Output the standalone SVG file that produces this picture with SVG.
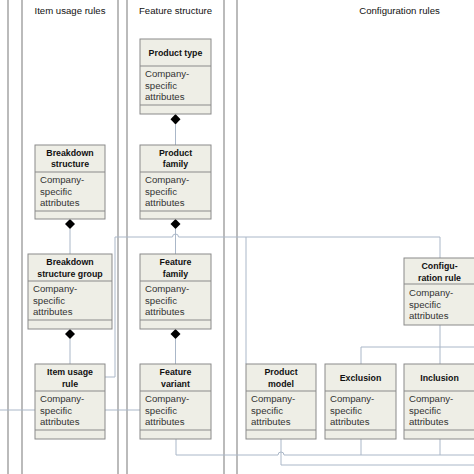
<svg xmlns="http://www.w3.org/2000/svg" width="474" height="474" viewBox="0 0 474 474">
<style>
  text { font-family: "Liberation Sans", Arial, sans-serif; }
  .lane { stroke: #8e8e8e; stroke-width: 1.2; fill: none; }
  .title { font-size: 9.6px; fill: #111; text-anchor: middle; }
  .box { fill: #eeeee6; stroke: #8a8a8a; stroke-width: 1; }
  .div { stroke: #8a8a8a; stroke-width: 1; fill: none; }
  .hd { font-size: 8.8px; font-weight: bold; fill: #111; text-anchor: middle; }
  .at { font-size: 9.6px; fill: #333; }
  .con { stroke: #aab7c8; stroke-width: 1; fill: none; }
  .comp { stroke: #aab7c8; stroke-width: 1; fill: none; }
  .dia { fill: #000; }
</style>
<rect width="474" height="474" fill="#ffffff"/>

<g id="lanes">
  <line class="lane" x1="8" y1="0" x2="8" y2="474"/>
  <line class="lane" x1="22" y1="0" x2="22" y2="474"/>
  <line class="lane" x1="118" y1="0" x2="118" y2="474"/>
  <line class="lane" x1="127" y1="0" x2="127" y2="474"/>
  <line class="lane" x1="224" y1="0" x2="224" y2="474"/>
  <line class="lane" x1="237" y1="0" x2="237" y2="474"/>
  <text class="title" x="70" y="14">Item usage rules</text>
  <text class="title" x="175.5" y="14">Feature structure</text>
  <text class="title" x="399.5" y="14">Configuration rules</text>
</g>

<g id="connectors">
  <!-- composition links -->
  <path class="comp" d="M175.5,124.5 V145"/>
  <path class="comp" d="M175.5,229 V254"/>
  <path class="comp" d="M70,229 V254"/>
  <path class="comp" d="M70,339 V364"/>
  <path class="comp" d="M175.5,339 V364"/>
  <polygon class="dia" points="175.5,114 180.5,119.2 175.5,124.5 170.5,119.2"/>
  <polygon class="dia" points="175.5,219 180.5,224 175.5,229 170.5,224"/>
  <polygon class="dia" points="70,219 75,224 70,229 65,224"/>
  <polygon class="dia" points="70,329 75,334 70,339 65,334"/>
  <polygon class="dia" points="175.5,329 180.5,334 175.5,339 170.5,334"/>
  <!-- item usage rule to configuration rule -->
  <path class="con" d="M105,377 H115 V237 H172.5 A3,3 0 0 1 178.5,237 H440 V258"/>
  <path class="con" d="M246,237 V364"/>
  <!-- configuration rule to inclusion / exclusion -->
  <path class="con" d="M440,325 V364"/>
  <path class="con" d="M361,364 V347 H474"/>
  <!-- left horizontal -->
  <path class="con" d="M0,410 H35"/>
  <path class="con" d="M105,410 H140"/>
  <!-- bottom lines -->
  <path class="con" d="M176,439 V455 H278 A3,3 0 0 1 284,455 H474"/>
  <path class="con" d="M361,439 V455"/>
  <path class="con" d="M440,439 V455"/>
  <path class="con" d="M281,439 V465 H474"/>
</g>

<g id="product-type">
  <rect class="box" x="140" y="39" width="71" height="75"/>
  <path class="div" d="M140,66 H211 M140,105 H211"/>
  <text class="hd" x="175.5" y="55.7">Product type</text>
  <text class="at" x="145" y="77">Company-</text>
  <text class="at" x="145" y="88.5">specific</text>
  <text class="at" x="145" y="100">attributes</text>
</g>

<g id="product-family">
  <rect class="box" x="140" y="145" width="71" height="74"/>
  <path class="div" d="M140,172 H211 M140,211 H211"/>
  <text class="hd" x="175.5" y="155.5">Product</text>
  <text class="hd" x="175.5" y="167">family</text>
  <text class="at" x="145" y="183">Company-</text>
  <text class="at" x="145" y="194.5">specific</text>
  <text class="at" x="145" y="206">attributes</text>
</g>

<g id="breakdown-structure">
  <rect class="box" x="35" y="145" width="70" height="74"/>
  <path class="div" d="M35,172 H105 M35,211 H105"/>
  <text class="hd" x="70" y="155.5">Breakdown</text>
  <text class="hd" x="70" y="167">structure</text>
  <text class="at" x="40" y="183">Company-</text>
  <text class="at" x="40" y="194.5">specific</text>
  <text class="at" x="40" y="206">attributes</text>
</g>

<g id="breakdown-structure-group">
  <rect class="box" x="28" y="254" width="84" height="75"/>
  <path class="div" d="M28,281 H112 M28,320 H112"/>
  <text class="hd" x="70" y="265">Breakdown</text>
  <text class="hd" x="70" y="276.5">structure group</text>
  <text class="at" x="33" y="292">Company-</text>
  <text class="at" x="33" y="303.5">specific</text>
  <text class="at" x="33" y="315">attributes</text>
</g>

<g id="feature-family">
  <rect class="box" x="140" y="254" width="71" height="75"/>
  <path class="div" d="M140,281 H211 M140,320 H211"/>
  <text class="hd" x="175.5" y="265">Feature</text>
  <text class="hd" x="175.5" y="276.5">family</text>
  <text class="at" x="145" y="292">Company-</text>
  <text class="at" x="145" y="303.5">specific</text>
  <text class="at" x="145" y="315">attributes</text>
</g>

<g id="item-usage-rule">
  <rect class="box" x="35" y="364" width="70" height="75"/>
  <path class="div" d="M35,391 H105 M35,430 H105"/>
  <text class="hd" x="70" y="375">Item usage</text>
  <text class="hd" x="70" y="386.5">rule</text>
  <text class="at" x="40" y="402">Company-</text>
  <text class="at" x="40" y="413.5">specific</text>
  <text class="at" x="40" y="425">attributes</text>
</g>

<g id="feature-variant">
  <rect class="box" x="140" y="364" width="71" height="75"/>
  <path class="div" d="M140,391 H211 M140,430 H211"/>
  <text class="hd" x="175.5" y="375">Feature</text>
  <text class="hd" x="175.5" y="386.5">variant</text>
  <text class="at" x="145" y="402">Company-</text>
  <text class="at" x="145" y="413.5">specific</text>
  <text class="at" x="145" y="425">attributes</text>
</g>

<g id="configuration-rule">
  <rect class="box" x="404" y="258" width="71" height="67"/>
  <path class="div" d="M404,284 H475"/>
  <text class="hd" x="439.5" y="269">Configu-</text>
  <text class="hd" x="439.5" y="280.5">ration rule</text>
  <text class="at" x="409" y="296">Company-</text>
  <text class="at" x="409" y="307.5">specific</text>
  <text class="at" x="409" y="319">attributes</text>
</g>

<g id="product-model">
  <rect class="box" x="246" y="364" width="70" height="75"/>
  <path class="div" d="M246,391 H316 M246,430 H316"/>
  <text class="hd" x="281" y="375">Product</text>
  <text class="hd" x="281" y="386.5">model</text>
  <text class="at" x="251" y="402">Company-</text>
  <text class="at" x="251" y="413.5">specific</text>
  <text class="at" x="251" y="425">attributes</text>
</g>

<g id="exclusion">
  <rect class="box" x="325" y="364" width="71" height="75"/>
  <path class="div" d="M325,391 H396 M325,430 H396"/>
  <text class="hd" x="360.5" y="380.8">Exclusion</text>
  <text class="at" x="330" y="402">Company-</text>
  <text class="at" x="330" y="413.5">specific</text>
  <text class="at" x="330" y="425">attributes</text>
</g>

<g id="inclusion">
  <rect class="box" x="404" y="364" width="71" height="75"/>
  <path class="div" d="M404,391 H475 M404,430 H475"/>
  <text class="hd" x="439.5" y="380.8">Inclusion</text>
  <text class="at" x="409" y="402">Company-</text>
  <text class="at" x="409" y="413.5">specific</text>
  <text class="at" x="409" y="425">attributes</text>
</g>
</svg>
